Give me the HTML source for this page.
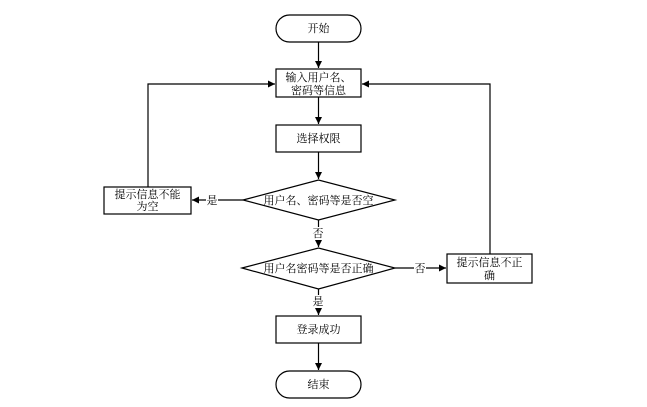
<!DOCTYPE html>
<html><head><meta charset="utf-8"><style>
body{margin:0;background:#fff}
text{font-family:"Liberation Serif","Noto Serif CJK SC","Noto Sans CJK SC",serif;font-size:11px;fill:#000}
</style></head><body>
<svg width="647" height="402" viewBox="0 0 647 402" xmlns="http://www.w3.org/2000/svg">
<defs><marker id="a" markerWidth="8" markerHeight="8" refX="7" refY="4" orient="auto" markerUnits="userSpaceOnUse"><path d="M0,0.5 L7,4 L0,7.5z" fill="#000"/></marker></defs>
<g stroke="#000" stroke-width="1.2" fill="none">
<rect x="276" y="15" width="85" height="27" rx="13.5" fill="#fff"/>
<rect x="276" y="69" width="85" height="28" fill="#fff"/>
<rect x="276" y="125" width="85" height="27" fill="#fff"/>
<polygon points="243,200 318.5,180 395,200 318.5,220" fill="#fff"/>
<rect x="104" y="187" width="87" height="27" fill="#fff"/>
<polygon points="242,268 318.5,248 395,268 318.5,289" fill="#fff"/>
<rect x="447" y="254" width="85" height="29" fill="#fff"/>
<rect x="276" y="316" width="85" height="27" fill="#fff"/>
<rect x="276" y="371" width="85" height="27" rx="13.5" fill="#fff"/>
<line x1="318.5" y1="42" x2="318.5" y2="68" marker-end="url(#a)"/>
<line x1="318.5" y1="97" x2="318.5" y2="124" marker-end="url(#a)"/>
<line x1="318.5" y1="152" x2="318.5" y2="179" marker-end="url(#a)"/>
<line x1="318.5" y1="220" x2="318.5" y2="247" marker-end="url(#a)"/>
<line x1="318.5" y1="289" x2="318.5" y2="315" marker-end="url(#a)"/>
<line x1="318.5" y1="343" x2="318.5" y2="370" marker-end="url(#a)"/>
<line x1="243" y1="200" x2="192" y2="200" marker-end="url(#a)"/>
<polyline points="148,187 148,84 275,84" marker-end="url(#a)"/>
<line x1="395" y1="268" x2="446" y2="268" marker-end="url(#a)"/>
<polyline points="490,254 490,84 362,84" marker-end="url(#a)"/>
</g>
<g text-anchor="middle">
<text x="318.5" y="32">开始</text>
<text x="318.5" y="81">输入用户名、</text>
<text x="318.5" y="94">密码等信息</text>
<text x="318.5" y="142">选择权限</text>
<text x="318.5" y="204">用户名、密码等是否空</text>
<text x="147.5" y="198">提示信息不能</text>
<text x="147.5" y="210">为空</text>
<rect x="206" y="193" width="12" height="13" fill="#fff"/>
<text x="212" y="204">是</text>
<rect x="312" y="227" width="12" height="13" fill="#fff"/>
<text x="318" y="237">否</text>
<text x="318.5" y="272">用户名密码等是否正确</text>
<rect x="414" y="261" width="12" height="13" fill="#fff"/>
<text x="420" y="272">否</text>
<text x="489.5" y="266">提示信息不正</text>
<text x="489.5" y="279">确</text>
<rect x="312" y="295" width="12" height="13" fill="#fff"/>
<text x="318" y="305">是</text>
<text x="318.5" y="333">登录成功</text>
<text x="318.5" y="388">结束</text>
</g>
</svg>
</body></html>
